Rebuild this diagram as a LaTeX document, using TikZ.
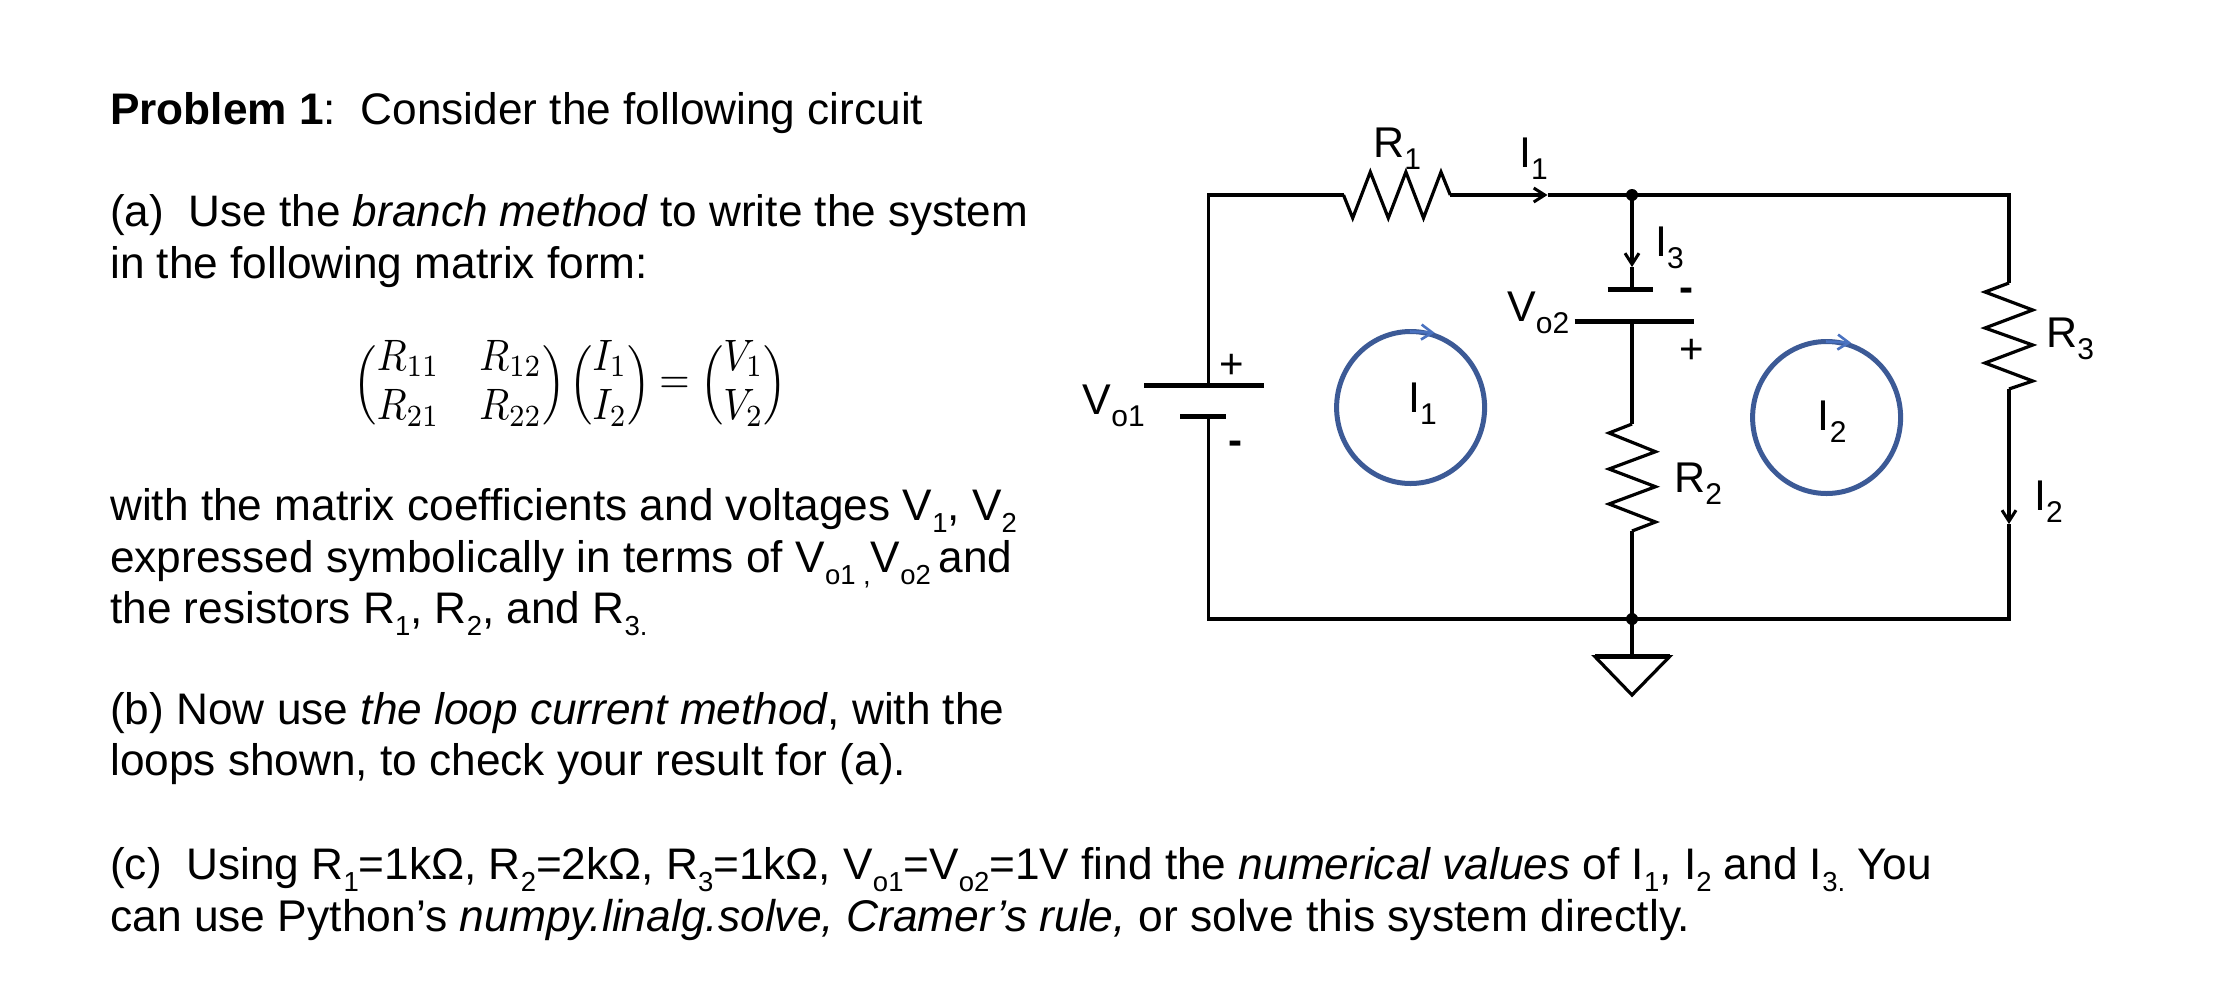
\documentclass[tikz,border=0pt]{standalone}
\usepackage{amsmath}
\usepackage[no-math]{fontspec}
\setmainfont{Liberation Sans}
\usetikzlibrary{arrows.meta}
\definecolor{loopblue}{HTML}{3C5A96}
\definecolor{looparrow}{HTML}{4A72C0}
\newcommand{\sbs}[1]{\raisebox{-0.28em}{\fontsize{27.5}{28}\selectfont #1}}
\newcommand{\lsb}[1]{\raisebox{-0.29em}{\fontsize{30}{30}\selectfont #1}}
\newcommand{\eqpart}[1]{\scalebox{3.9}[4.4]{\fontsize{10}{11.36}\selectfont\arraycolsep=5.1pt $#1$}}
\tikzset{
  x=1pt,y=-1pt,
  para/.style={anchor=base west,inner sep=0pt,font=\fontsize{44.2}{50}\selectfont},
  lab/.style={anchor=base west,inner sep=0pt,font=\fontsize{43}{50}\selectfont},
  sign/.style={anchor=center,inner sep=0pt,font=\fontsize{42}{42}\selectfont},
  eqn/.style={anchor=center,inner sep=0pt},
  wire/.style={draw=black,line width=3.2pt,line join=miter},
  plate/.style={draw=black,line width=5pt},
  loopc/.style={draw=loopblue,line width=5pt},
  looph/.style={draw=looparrow,line width=2.6pt,-{Straight Barb[length=11pt,width=15pt,line width=2.6pt]}},
  curr/.style={wire,-{Straight Barb[length=11pt,width=14pt,line width=3pt]}},
  dot/.style={circle,fill=black,inner sep=0pt,minimum size=12pt}
}
\begin{document}
\begin{tikzpicture}
\useasboundingbox (0,0) rectangle (2214,994);
\fill[white] (0,0) rectangle (2214,994);

% text
\node[para] (t1) at (110,124) {\textbf{Problem 1}:\ \ Consider the following circuit};
\node[para,font=\fontsize{44.1}{50}\selectfont] (t2) at (110,226) {(a)\ \ Use the \textit{branch method} to write the system};
\node[para] (t3) at (110,278) {in the following matrix form:};
\node[eqn] (eq1) at (459.5,385) {\eqpart{\Big(\begin{matrix}R_{11}&R_{12}\\R_{21}&R_{22}\end{matrix}\Big)}};
\node[eqn] (eq2) at (610,385) {\eqpart{\Big(\begin{matrix}I_1\\I_2\end{matrix}\Big)}};
\node[eqn] (eq3) at (674.5,385) {\eqpart{=}};
\node[eqn] (eq4) at (743.5,385) {\eqpart{\Big(\begin{matrix}V_1\\V_2\end{matrix}\Big)}};
\node[para] (t4) at (110,520) {with the matrix coefficients and voltages V\sbs{1}, V\sbs{2}};
\node[para] (t5) at (110,572) {expressed symbolically in terms of V\sbs{o1 ,}V\sbs{o2}\hspace{-.1em} and};
\node[para] (t6) at (110,623) {the resistors R\sbs{1}, R\sbs{2}, and R\sbs{3.}};
\node[para] (t7) at (110,724) {(b) Now use \textit{the loop current method}, with the};
\node[para] (t8) at (110,775) {loops shown, to check your result for (a).};
\node[para] (t9) at (110,879) {(c)\ \ Using R\sbs{1}=1kΩ, R\sbs{2}=2kΩ, R\sbs{3}=1kΩ, V\sbs{o1}=V\sbs{o2}=1V find the \textit{numerical values} of I\sbs{1}, I\sbs{2} and I\sbs{3.} You};
\node[para,font=\fontsize{44.4}{50}\selectfont] (t10) at (110,931) {can use Python’s \textit{numpy.linalg.solve, Cramer’s rule,} or solve this system directly.};

% circuit points
\coordinate (tl) at (1208.4,195);
\coordinate (r1a) at (1343.5,195);
\coordinate (r1b) at (1450.3,195);
\coordinate (i1tip) at (1547.5,195);
\node[dot] (top) at (1632,195) {};
\coordinate (tr) at (2009,195);
\coordinate (r3a) at (2009,283);
\coordinate (r3b) at (2009,389);
\coordinate (i2tip) at (2009,524);
\coordinate (br) at (2009,619);
\node[dot] (bot) at (1632,619) {};
\coordinate (bl) at (1208.4,619);
\coordinate (v1p) at (1208.4,385.7);
\coordinate (v1n) at (1208.4,416);
\coordinate (i3tip) at (1632,267);
\coordinate (v2n) at (1632,289);
\coordinate (v2p) at (1632,321);
\coordinate (r2a) at (1632,424);
\coordinate (r2b) at (1632,531);
\coordinate (gnd) at (1632,656.7);

% wires
\draw[wire] (v1p) -- (tl) -- (r1a);
\draw[wire] (r1a) -- ++(9.2,23) -- ++(17.6,-46) -- ++(18,46) -- ++(17.6,-46) -- ++(17.6,46) -- ++(17.5,-46) -- (r1b);
\draw[curr] (r1b) -- (i1tip);
\draw[wire] (i1tip) -- (top.center);
\draw[wire] (top.center) -- (tr) -- (r3a);
\draw[wire] (r3a) -- ++(-24,9) -- ++(47.7,18) -- ++(-47.7,18) -- ++(47.7,17) -- ++(-47.7,18) -- ++(47.7,18) -- (r3b);
\draw[curr] (r3b) -- (i2tip);
\draw[wire] (i2tip) -- (br) -- (bl) -- (v1n);
\draw[curr] (top.center) -- (i3tip);
\draw[wire] (i3tip) -- (v2n);
\draw[wire] (v2p) -- (r2a);
\draw[wire] (r2a) -- ++(-23,9) -- ++(46.5,18.7) -- ++(-46.5,17.3) -- ++(46.5,17.7) -- ++(-46.5,17.3) -- ++(46.5,18) -- (r2b);
\draw[wire] (r2b) -- (bot.center);
\draw[wire] (bot.center) -- (gnd);

% plates
\draw[plate] (1144,385.7) -- (1263.5,385.7);
\draw[plate] (1180,416) -- (1225.7,416);
\draw[plate] (1607.5,289) -- (1652.7,289);
\draw[plate] (1574.6,321) -- (1694,321);

% ground
\draw[wire] (1595,656.7) -- (1669.5,656.7) -- (1632,695) -- cycle;
\draw[line width=4.5pt] (1595,656.7) -- (1669.5,656.7);

% loops
\draw[loopc] (1410.6,407.5) ellipse [x radius=74,y radius=76];
\draw[looph] (1410,331.5) -- (1434.6,332.7);
\draw[loopc] (1826.6,417.5) ellipse [x radius=74,y radius=76];
\draw[looph] (1826,341.5) -- (1851,342.7);

% labels
\node[lab] (lr1) at (1373,157) {R\lsb{1}};
\node[lab] (li1) at (1519,167) {I\lsb{1}};
\node[lab] (li3) at (1655,256) {I\lsb{3}};
\node[lab] (lv2) at (1507,321) {V\lsb{o2}};
\node[lab] (lv1) at (1082.5,414) {V\lsb{o1}};
\node[lab] (lr3) at (2046,347) {R\lsb{3}};
\node[lab] (lr2) at (1674,492) {R\lsb{2}};
\node[lab] (li2) at (2034,510) {I\lsb{2}};
\node[lab] (lc1) at (1408,412) {I\lsb{1}};
\node[lab] (lc2) at (1817.6,430) {I\lsb{2}};
\node[sign] (s1) at (1232,366) {+};
\node[sign] (s2) at (1235.6,448) {\textbf{-}};
\node[sign] (s3) at (1692,351) {+};
\node[sign] (s4) at (1686,295) {\textbf{-}};
\end{tikzpicture}
\end{document}
